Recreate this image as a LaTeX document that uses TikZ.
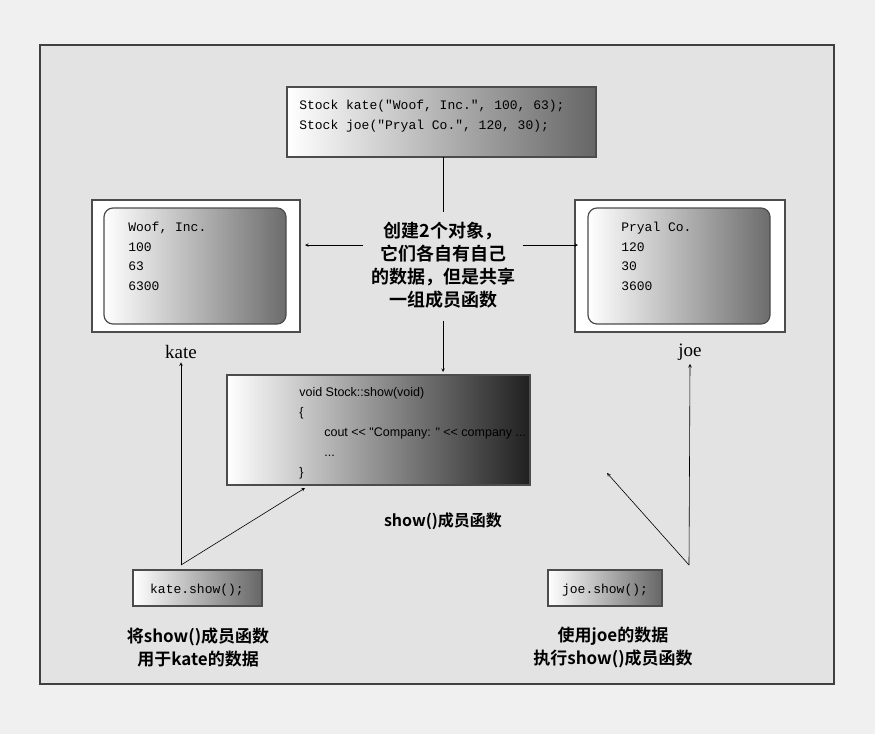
\documentclass[tikz,border=0pt]{standalone}
\usepackage{fontspec}
\setmonofont{Liberation Mono}
\setmainfont{Liberation Serif}
\newfontfamily\cjk{Noto Sans CJK SC}[BoldFont={Noto Sans CJK SC Bold}]
\newfontfamily\funcfont{Liberation Sans}
\usetikzlibrary{positioning}
\tikzset{
  codebox/.style={draw=gray!60!black, line width=1.4pt, left color=white, right color=gray!80!black},
  objframe/.style={draw=gray!60!black, line width=1.4pt, fill=white},
  objscreen/.style={draw=gray!60!black, line width=1.2pt, rounded corners=9pt, left color=white, right color=gray!85!black},
  codetext/.style={font=\ttfamily\fontsize{13}{19.5}\selectfont, align=left, anchor=north west, inner sep=0pt},
  notetext/.style={font=\cjk\bfseries\fontsize{18}{23}\selectfont, align=center},
  objname/.style={font=\fontsize{19}{22}\selectfont}
}
\begin{document}
\begin{tikzpicture}[x=1pt,y=-1pt,>=stealth,semithick]
  \useasboundingbox (0,0) rectangle (875,734);
  % background and panel
  \fill[gray!12] (0,0) rectangle (875,734);
  \draw[fill=gray!22, draw=gray!50!black, line width=1.4pt] (40,45) rectangle (834,684);

  % declaration box
  \draw[codebox] (287,87) rectangle (596,157);
  \node[codetext, font=\ttfamily\fontsize{13}{20}\selectfont] (decl) at (299,100) {Stock kate("Woof, Inc.", 100, 63);\\Stock joe("Pryal Co.", 120, 30);};
  \coordinate (declbot) at (443,157);

  % objects
  \draw[objframe] (92,200) rectangle (300,332);
  \draw[objscreen] (104,208) rectangle (286,324);
  \node[codetext] (kobj) at (128,222) {Woof, Inc.\\100\\63\\6300};
  \draw[objframe] (575,200) rectangle (785,332);
  \draw[objscreen] (588,208) rectangle (770,324);
  \node[codetext] (jobj) at (621,222) {Pryal Co.\\120\\30\\3600};
  \coordinate (kright) at (305,245);
  \coordinate (jleft) at (578,245);

  \node[objname] (kate) at (181,352) {kate};
  \node[objname] (joe) at (690,352) {joe};

  % center note
  \node[notetext] (make) at (443,265) {创建2个对象，\\它们各自有自己\\的数据，但是共享\\一组成员函数};
  \coordinate (maketop) at (443,212);
  \coordinate (makebot) at (443,321);

  % member function box
  \draw[codebox, right color=gray!25!black] (227,375) rectangle (530,485);
  \node[font=\funcfont\fontsize{12.5}{20}\selectfont, align=left, anchor=north west, inner sep=0pt] (func) at (299,387)
    {void Stock::show(void)\\\{\\\hspace{2em}cout {<}{<} "Company: " {<}{<} company ...\\\hspace{2em}...\\\}};
  \coordinate (fdown) at (443,372);
  \coordinate (fleft) at (305,488);
  \coordinate (fright) at (607,473);
  \node[notetext, font=\cjk\bfseries\fontsize{16}{20}\selectfont] (fnote) at (443,521) {show()成员函数};

  % calls
  \draw[codebox] (133,570) rectangle (262,606);
  \node[codetext, anchor=center] (kcall) at (197,590) {kate.show();};
  \draw[codebox] (548,570) rectangle (662,606);
  \node[codetext, anchor=center] (jcall) at (605,590) {joe.show();};
  \coordinate (kfork) at (181,565);
  \coordinate (jfork) at (689,565);

  \node[notetext, font=\cjk\bfseries\fontsize{17}{23}\selectfont] (knote) at (198,647) {将show()成员函数\\用于kate的数据};
  \node[notetext, font=\cjk\bfseries\fontsize{17}{23}\selectfont] (jnote) at (613,647) {使用joe的数据\\执行show()成员函数};

  % connectors
  \draw (declbot) -- (maketop);
  \draw[->] (make.west |- kright) ++(-4,0) -- (kright);
  \draw[->] (make.east |- jleft) ++(4,0) -- (jleft);
  \draw[->] (makebot) -- (fdown);
  \draw[->] (kfork) -- (kate.south);
  \draw[->] (kfork) -- (fleft);
  \draw[->] (jfork) -- (joe.south);
  \draw[->] (jfork) -- (fright);
\end{tikzpicture}
\end{document}
